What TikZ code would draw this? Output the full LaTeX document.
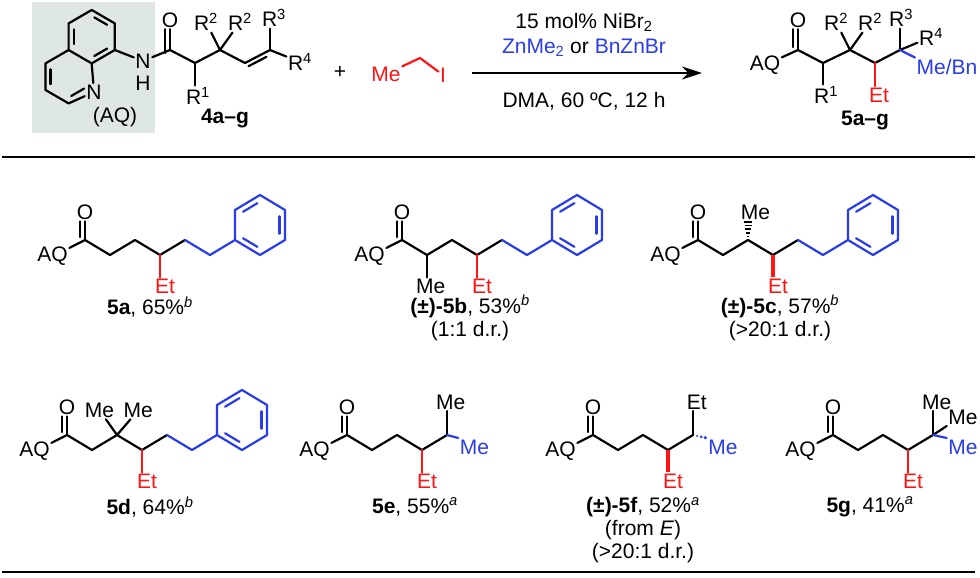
\documentclass[tikz,border=0pt]{standalone}
\usepackage{fontspec}
\setmainfont{Liberation Sans}
\usetikzlibrary{calc,arrows.meta}
\definecolor{cred}{RGB}{255,20,20}
\definecolor{cblue}{RGB}{40,60,235}
\definecolor{boxgray}{RGB}{223,230,230}
\newcommand\aqhead{%
 \coordinate (k0) at (0,0);
 \node[atom] (aq) at (-1.3,1.1) {AQ};
 \draw[bond] (aq) -- (k0);
 \node[atom] (ox) at (0,-1.85) {O};
 \draw[bond] (k0) -- (ox.south);
 \draw[bond] ([xshift=-5pt,yshift=3pt]k0) -- ([xshift=-5pt]k0 |- ox.south);
 \coordinate (k1) at (1,1); \coordinate (k2) at (2,0); \coordinate (k3) at (3,1);
 \coordinate (k4) at (4,0); \coordinate (k5) at (5,1);
}
\newcommand\phring{%
 \coordinate (r1) at (6,0); \coordinate (r2) at (7,1); \coordinate (r3) at (8,0);
 \coordinate (r4) at (8,-2); \coordinate (r5) at (7,-3); \coordinate (r6) at (6,-2);
 \coordinate (rc) at (7,-1);
 \draw[bond,cblue] (k4) -- (k5) -- (r1);
 \draw[bond,cblue] (r1)--(r2)--(r3)--(r4)--(r5)--(r6)--cycle;
 \foreach \a/\b in {r6/r5,r3/r4,r2/r1}
   \draw[bond,cblue,shorten <=3pt,shorten >=3pt] ($(\a)!0.22!(rc)$) -- ($(\b)!0.22!(rc)$);
}
\begin{document}
\begin{tikzpicture}[x=1pt,y=-1pt,
  bond/.style={line width=2.2pt,line cap=round,line join=round},
  lbl/.style={inner sep=0pt,font=\fontsize{21}{24}\selectfont},
  atom/.style={lbl,inner sep=1.5pt},
  capt/.style={lbl,align=center,font=\fontsize{21}{23}\selectfont}]
\useasboundingbox (0,0) rectangle (980,578);
\fill[boxgray] (32,2) rectangle (155,133);
% quinoline
\coordinate (q1) at (91.7,10.0); \coordinate (q2) at (114.8,23.4);
\coordinate (q3) at (114.8,50.0); \coordinate (q4) at (91.7,63.4);
\coordinate (q5) at (68.6,50.0); \coordinate (q6) at (68.6,23.4);
\coordinate (qn) at (91.7,90.0); \coordinate (q7) at (68.6,103.4);
\coordinate (q8) at (45.5,90.0); \coordinate (q9) at (45.5,63.4);
\coordinate (c1) at (91.7,36.7); \coordinate (c2) at (68.6,76.7);
\node[atom] (nN) at (94,92) {N};
\draw[bond] (q1)--(q2)--(q3)--(q4)--(q5)--(q6)--cycle;
\draw[bond] (q4) -- (nN) -- (q7) -- (q8) -- (q9) -- (q5);
\foreach \a/\b/\c in {q1/q2/c1,q3/q4/c1,q5/q6/c1,qn/q7/c2,q8/q9/c2}
  \draw[bond,shorten <=3pt,shorten >=3pt] ($(\a)!0.22!(\c)$) -- ($(\b)!0.22!(\c)$);
\node[atom] (nh) at (143,61) {N};
\node[atom] (hh) at (143,83) {H};
\node[lbl] (aqt) at (115,117) {(AQ)};
\coordinate (a1) at (170,50); \coordinate (a2) at (195,63); \coordinate (a3) at (220,50);
\coordinate (a4) at (245,63); \coordinate (a5) at (270,50);
\node[atom] (o1) at (170,20) {O};
\node[atom] (r1l) at (198,96) {R\textsuperscript{1}};
\node[atom] (r2a) at (206,22) {R\textsuperscript{2}};
\node[atom] (r2b) at (240,22) {R\textsuperscript{2}};
\node[atom] (r3l) at (274,18) {R\textsuperscript{3}};
\node[atom] (r4l) at (300,62) {R\textsuperscript{4}};
\draw[bond] (q3) -- (nh) -- (a1) -- (a2) -- (a3) -- (a4) -- (a5);
\draw[bond] (a1) -- (o1.south);
\draw[bond] ([xshift=-5pt,yshift=-3pt]a1) -- ([xshift=-5pt]a1 |- o1.south);
\draw[bond] (a2) -- (a2 |- r1l.north);
\draw[bond] (a3) -- (r2a); \draw[bond] (a3) -- (r2b);
\draw[bond,shorten <=4pt,shorten >=4pt] ([yshift=-5pt]a4) -- ([yshift=-5pt]a5);
\draw[bond] (a5) -- (a5 |- r3l.south);
\draw[bond] (a5) -- (r4l);
\node[lbl,font=\fontsize{21}{24}\selectfont\bfseries] (l4) at (225,119) {4a–g};
\node[lbl] (plus) at (340,72) {+};
\node[atom,text=cred] (mei) at (386,74) {Me};
\node[atom,text=cred] (ii) at (443,75) {I};
\coordinate (e1) at (420,58);
\draw[bond,cred] (mei) -- (e1) -- (ii);
% arrow
\coordinate (ar0) at (472,73); \coordinate (ar1) at (702,73);
\draw[line width=2pt,-{Stealth[length=20pt,width=13pt]}] (ar0) -- (ar1);
\node[lbl] (t1) at (584,22) {15 mol\% NiBr\textsubscript{2}};
\node[lbl] (t2) at (584,48) {\textcolor{cblue}{ZnMe\textsubscript{2}} or \textcolor{cblue}{BnZnBr}};
\node[lbl] (t3) at (584,101) {DMA, 60 ºC, 12 h};
% product
\coordinate (p1) at (798,50); \coordinate (p2) at (823,63); \coordinate (p3) at (850,50);
\coordinate (p4) at (875,63); \coordinate (p5) at (900,50);
\node[atom] (paq) at (765,65) {AQ};
\node[atom] (po) at (798,20) {O};
\node[atom] (pr1) at (826,95) {R\textsuperscript{1}};
\node[atom] (pr2a) at (836,22) {R\textsuperscript{2}};
\node[atom] (pr2b) at (870,22) {R\textsuperscript{2}};
\node[atom] (pr3) at (901,18) {R\textsuperscript{3}};
\node[atom] (pr4) at (931,37) {R\textsuperscript{4}};
\node[atom,text=cred] (pet) at (879,95) {Et};
\node[atom,text=cblue] (pmb) at (947,67) {Me/Bn};
\draw[bond] (paq) -- (p1) -- (p2) -- (p3) -- (p4) -- (p5);
\draw[bond] (p1) -- (po.south);
\draw[bond] ([xshift=-5pt,yshift=3pt]p1) -- ([xshift=-5pt]p1 |- po.south);
\draw[bond] (p2) -- (p2 |- pr1.north);
\draw[bond] (p3) -- (pr2a); \draw[bond] (p3) -- (pr2b);
\draw[bond,cred] (p4) -- (p4 |- pet.north);
\draw[bond] (p5) -- (p5 |- pr3.south);
\draw[bond] (p5) -- (pr4);
\draw[bond,cblue] (p5) -- (pmb.north west);
\node[lbl,font=\fontsize{21}{24}\selectfont\bfseries] (l5) at (865,121) {5a–g};
% rules
\coordinate (h1) at (2,157); \coordinate (h2) at (975,157);
\coordinate (h3) at (2,572); \coordinate (h4) at (975,572);
\draw[line width=1.5pt] (h1) -- (h2);
\draw[line width=1.5pt] (h3) -- (h4);
% 5a
\begin{scope}[shift={(85,240)},x=25pt,y=-15pt]
 \aqhead
 \node[atom,text=cred] (et) at (3.2,3.1) {Et};
 \draw[bond] (k0) -- (k1) -- (k2) -- (k3) -- (k4);
 \draw[bond,cred] (k3) -- (k3 |- et.north);
 \phring
\end{scope}
\node[capt] (c5a) at (150,307) {\textbf{5a}, 65\%\textsuperscript{\textit{b}}};
% 5b
\begin{scope}[shift={(402,240)},x=25pt,y=-15pt]
 \aqhead
 \node[atom,text=cred] (et) at (3.2,3.1) {Et};
 \node[atom] (me) at (1.15,3.1) {Me};
 \draw[bond] (k0) -- (k1) -- (k2) -- (k3) -- (k4);
 \draw[bond] (k1) -- (k1 |- me.north);
 \draw[bond,cred] (k3) -- (k3 |- et.north);
 \phring
\end{scope}
\node[capt] (c5b) at (470,318) {\textbf{(±)-5b}, 53\%\textsuperscript{\textit{b}}\\(1:1 d.r.)};
% 5c
\begin{scope}[shift={(698,240)},x=25pt,y=-15pt]
 \aqhead
 \node[atom,text=cred] (et) at (3.2,3.1) {Et};
 \node[atom] (me) at (2.3,-1.85) {Me};
 \draw[bond] (k0) -- (k1) -- (k2) -- (k3) -- (k4);
 \foreach \i in {1,...,5}
   \draw[line width=1.6pt] ($(k2)+(-0.035*\i,-0.24*\i)$) -- ($(k2)+(0.035*\i,-0.24*\i)$);
 \draw[line width=3.8pt,cred] (k3) -- (k3 |- et.north);
 \phring
\end{scope}
\node[capt] (c5c) at (780,318) {\textbf{(±)-5c}, 57\%\textsuperscript{\textit{b}}\\(>20:1 d.r.)};
% 5d
\begin{scope}[shift={(67,435)},x=25pt,y=-15pt]
 \aqhead
 \node[atom,text=cred] (et) at (3.2,3.1) {Et};
 \node[atom] (me1) at (1.3,-1.65) {Me};
 \node[atom] (me2) at (2.85,-1.65) {Me};
 \draw[bond] (k0) -- (k1) -- (k2) -- (k3) -- (k4);
 \draw[bond] (k2) -- (me1); \draw[bond] (k2) -- (me2);
 \draw[bond,cred] (k3) -- (k3 |- et.north);
 \phring
\end{scope}
\node[capt] (c5d) at (150,507) {\textbf{5d}, 64\%\textsuperscript{\textit{b}}};
% 5e
\begin{scope}[shift={(347,435)},x=25pt,y=-15pt]
 \aqhead
 \node[atom,text=cred] (et) at (3.2,3.1) {Et};
 \node[atom] (me1) at (4.15,-2.2) {Me};
 \node[atom,text=cblue] (me2) at (5.1,0.8) {Me};
 \draw[bond] (k0) -- (k1) -- (k2) -- (k3) -- (k4);
 \draw[bond] (k4) -- (k4 |- me1.south);
 \draw[bond,cblue] (k4) -- (me2.north west);
 \draw[bond,cred] (k3) -- (k3 |- et.north);
\end{scope}
\node[capt] (c5e) at (415,507) {\textbf{5e}, 55\%\textsuperscript{\textit{a}}};
% 5f
\begin{scope}[shift={(593,435)},x=25pt,y=-15pt]
 \aqhead
 \node[atom,text=cred] (et) at (3.2,3.1) {Et};
 \node[atom] (et2) at (4.15,-2.2) {Et};
 \node[atom,text=cblue] (me2) at (5.2,0.8) {Me};
 \draw[bond] (k0) -- (k1) -- (k2) -- (k3) -- (k4);
 \draw[bond] (k4) -- (k4 |- et2.south);
 \foreach \f/\r in {0.3/1.2,0.6/1.5,0.9/1.8}
   \fill[cblue] ($(k4)!\f!(me2.north west)$) circle (\r pt);
 \draw[line width=3.8pt,cred] (k3) -- (k3 |- et.north);
\end{scope}
\node[capt] (c5f) at (643,530) {\textbf{(±)-5f}, 52\%\textsuperscript{\textit{a}}\\(from \textit{E})\\(>20:1 d.r.)};
% 5g
\begin{scope}[shift={(833,435)},x=25pt,y=-15pt]
 \aqhead
 \node[atom,text=cred] (et) at (3.2,3.1) {Et};
 \node[atom] (me1) at (4.15,-2.2) {Me};
 \node[atom] (me2) at (5.2,-1.2) {Me};
 \node[atom,text=cblue] (me3) at (5.2,0.8) {Me};
 \draw[bond] (k0) -- (k1) -- (k2) -- (k3) -- (k4);
 \draw[bond] (k4) -- (k4 |- me1.south);
 \draw[bond] (k4) -- (me2.south west);
 \draw[bond,cblue] (k4) -- (me3.north west);
 \draw[bond,cred] (k3) -- (k3 |- et.north);
\end{scope}
\node[capt] (c5g) at (870,507) {\textbf{5g}, 41\%\textsuperscript{\textit{a}}};
\end{tikzpicture}
\end{document}
